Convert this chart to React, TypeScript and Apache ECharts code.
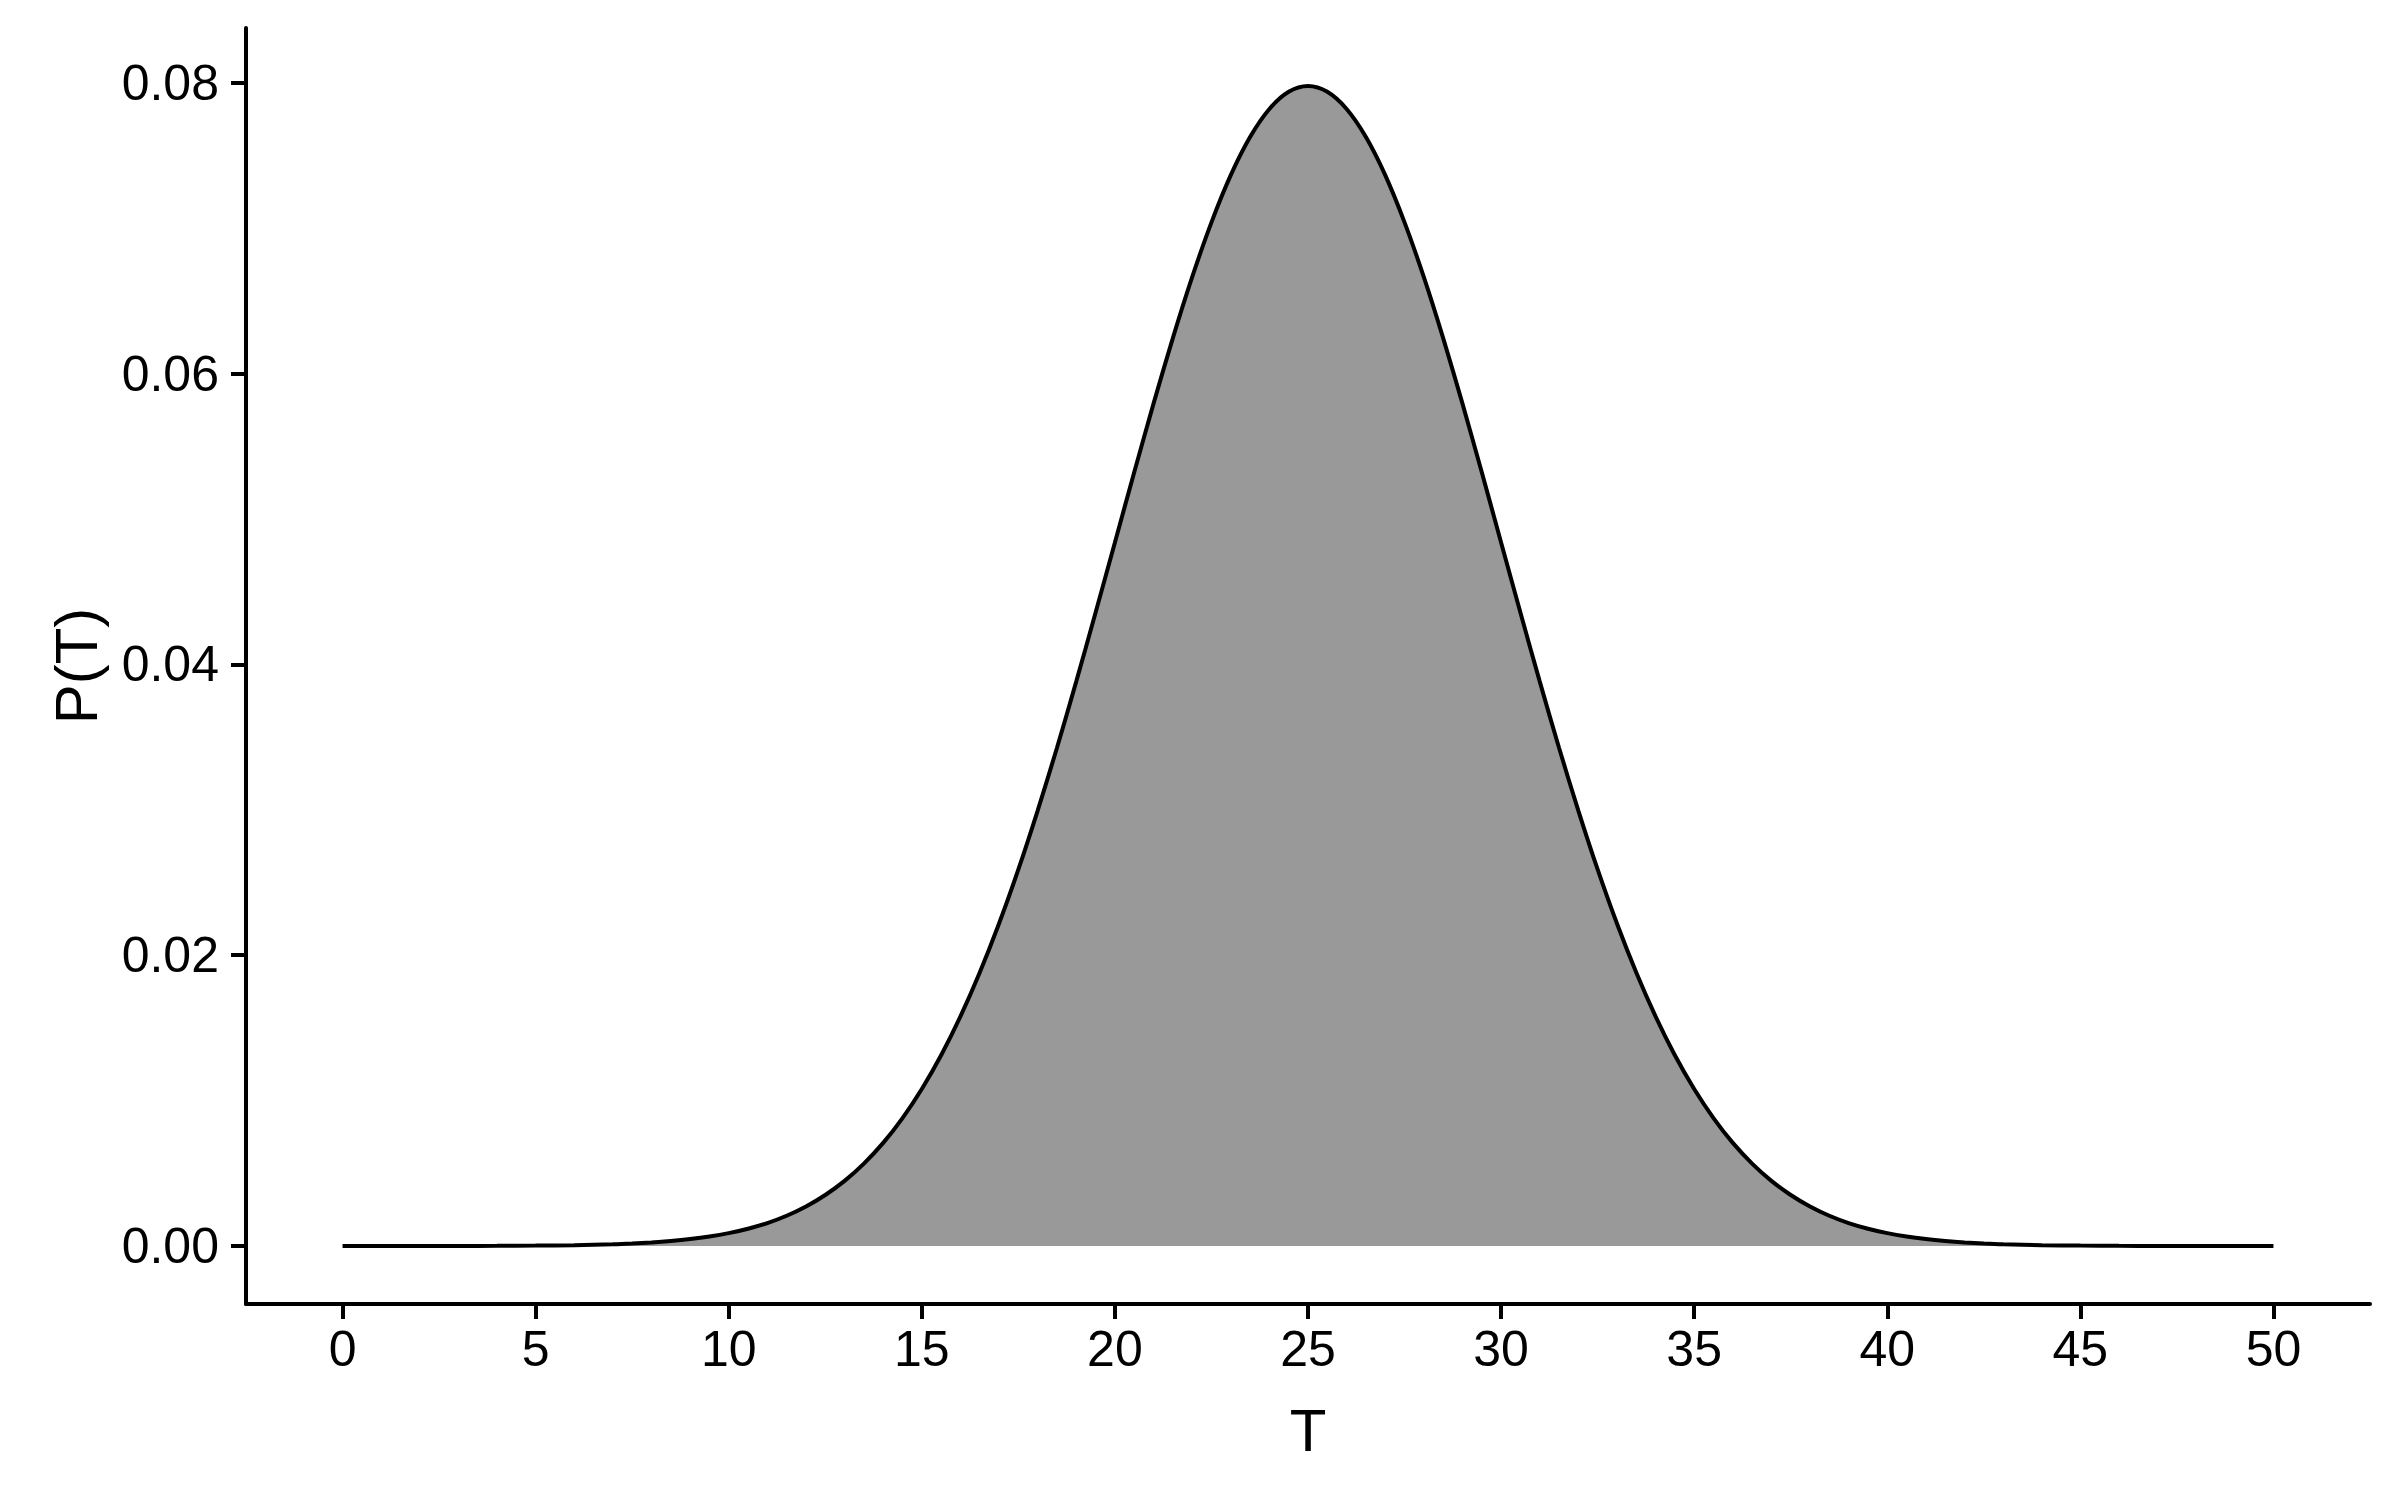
import React, { useEffect, useRef } from "react";
import * as echarts from "echarts";

const tValues = [
  0, 1, 2, 3, 4, 5, 6, 7, 7.5, 8, 8.5, 9, 9.5, 10, 10.5, 11, 11.5, 12, 12.5, 13, 13.5, 14, 14.5,
  15, 15.5, 16, 16.5, 17, 17.5, 18, 18.5, 19, 19.5, 20, 20.5, 21, 21.5, 22, 22.5, 23, 23.5, 24,
  24.5, 25, 25.5, 26, 26.5, 27, 27.5, 28, 28.5, 29, 29.5, 30, 30.5, 31, 31.5, 32, 32.5, 33, 33.5,
  34, 34.5, 35, 35.5, 36, 36.5, 37, 37.5, 38, 38.5, 39, 39.5, 40, 40.5, 41, 41.5, 42, 42.5, 43,
  44, 45, 46, 47, 48, 49, 50,
];
const density = [
  0.0000003, 0.0000008, 0.000002, 0.000005, 0.0000118, 0.0000268, 0.0000584, 0.000122, 0.000175,
  0.000246, 0.000345, 0.000477, 0.000653, 0.000886, 0.00119, 0.00158, 0.00208, 0.00272, 0.00351,
  0.00448, 0.00567, 0.00709, 0.0088, 0.0108, 0.01312, 0.01579, 0.01881, 0.02218, 0.0259, 0.02995,
  0.03427, 0.03884, 0.04357, 0.04839, 0.05322, 0.05794, 0.06245, 0.06664, 0.07041, 0.07366,
  0.07628, 0.07821, 0.07939, 0.07979, 0.07939, 0.07821, 0.07628, 0.07366, 0.07041, 0.06664,
  0.06245, 0.05794, 0.05322, 0.04839, 0.04357, 0.03884, 0.03427, 0.02995, 0.0259, 0.02218,
  0.01881, 0.01579, 0.01312, 0.0108, 0.0088, 0.00709, 0.00567, 0.00448, 0.00351, 0.00272,
  0.00208, 0.00158, 0.00119, 0.000886, 0.000653, 0.000477, 0.000345, 0.000246, 0.000175,
  0.000122, 0.0000584, 0.0000268, 0.0000118, 0.000005, 0.000002, 0.0000008, 0.0000003,
];
const xTicks = [0, 5, 10, 15, 20, 25, 30, 35, 40, 45, 50];
const yTicks = [0, 0.02, 0.04, 0.06, 0.08];
const xTitle = "T";
const yTitle = "P(T)";

const FONT = "Liberation Sans";

export default function App() {
  const ref = useRef<HTMLDivElement>(null);
  useEffect(() => {
    if (!ref.current) return;
    const chart = echarts.init(ref.current, null, { renderer: "svg" });
    const axisLine = { show: true, onZero: false, lineStyle: { color: "#000", width: 4 } };
    chart.setOption({
      animation: false,
      backgroundColor: "#fff",
      textStyle: { fontFamily: FONT },
      grid: { left: 246, right: 30, top: 28, bottom: 196, containLabel: false },
      xAxis: {
        type: "value",
        min: -2.5,
        max: 52.5,
        axisLine,
        axisTick: { show: true, length: 15, lineStyle: { color: "#000", width: 4 }, customValues: xTicks },
        axisLabel: {
          customValues: xTicks,
          margin: 20,
          fontSize: 50,
          color: "#000",
          fontFamily: FONT,
        },
        splitLine: { show: false },
      },
      yAxis: {
        type: "value",
        min: -0.00399,
        max: 0.08378,
        axisLine,
        axisTick: { show: true, length: 15, lineStyle: { color: "#000", width: 4 }, customValues: yTicks },
        axisLabel: {
          customValues: yTicks,
          margin: 27,
          fontSize: 50,
          color: "#000",
          fontFamily: FONT,
          formatter: (v: number) => v.toFixed(2),
        },
        splitLine: { show: false },
      },
      series: [
        {
          type: "line",
          data: tValues.map((t, i) => [t, density[i]]),
          smooth: 0.3,
          showSymbol: false,
          symbol: "none",
          lineStyle: { color: "#000", width: 4 },
          areaStyle: { color: "#999999", opacity: 1 },
          z: 3,
        },
      ],
      graphic: [
        {
          type: "text",
          x: 1308,
          y: 1430,
          style: {
            text: xTitle,
            font: `60px "${FONT}"`,
            fill: "#000",
            align: "center",
            verticalAlign: "middle",
          },
        },
        {
          type: "text",
          x: 76,
          y: 666,
          rotation: Math.PI / 2,
          style: {
            text: yTitle,
            font: `60px "${FONT}"`,
            fill: "#000",
            align: "center",
            verticalAlign: "middle",
          },
        },
      ],
    });
    return () => chart.dispose();
  }, []);
  return (
    <div
      ref={ref}
      style={{ position: "absolute", left: 0, top: 0, width: 2400, height: 1500 }}
    />
  );
}
